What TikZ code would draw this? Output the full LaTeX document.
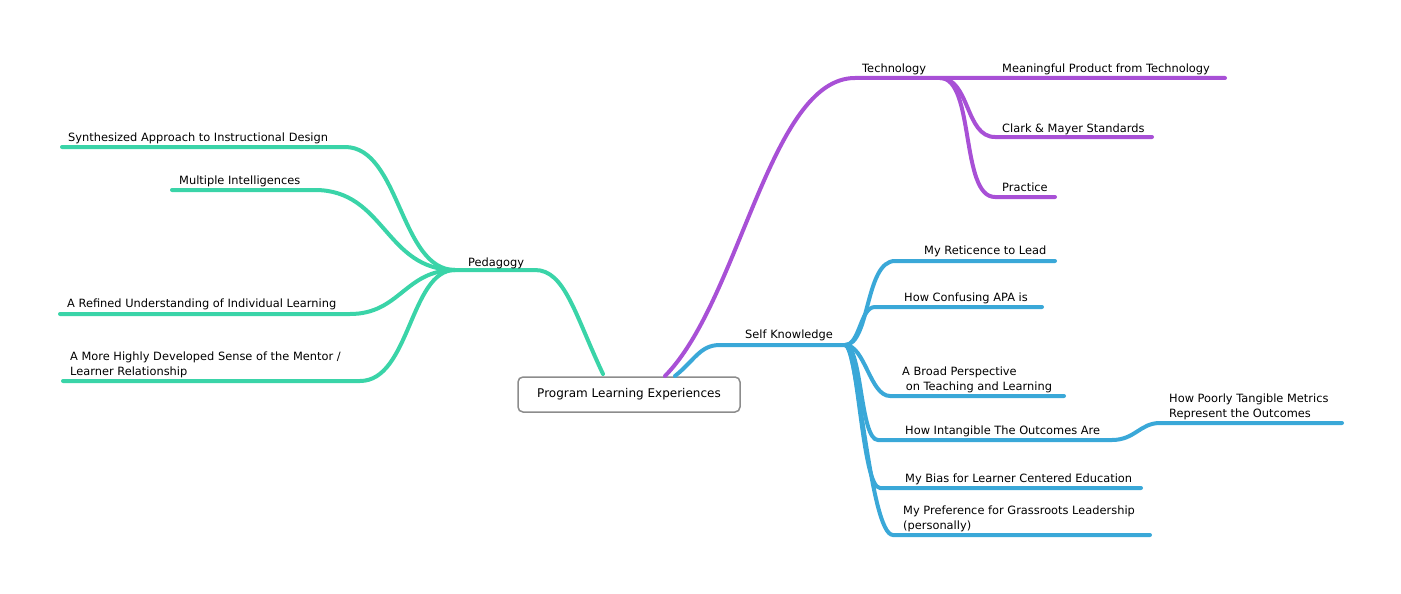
\documentclass[tikz,border=0pt]{standalone}
\usepackage{fontspec}
\setmainfont{DejaVu Sans}
\begin{document}
\begin{tikzpicture}[x=1pt,y=-1pt,
  br/.style={line width=4pt,line cap=round},
  ped/.style={br,draw={rgb,255:red,58;green,212;blue,168}},
  tec/.style={br,draw={rgb,255:red,168;green,80;blue,214}},
  slf/.style={br,draw={rgb,255:red,58;green,168;blue,216}},
  lbl/.style={font=\fontsize{11.4}{15}\selectfont,inner sep=0pt,anchor=base west,align=left}]
\useasboundingbox (0,0) rectangle (1401,594);
\node[draw={rgb,255:red,140;green,140;blue,140},line width=1.5pt,rounded corners=5pt,minimum width=222pt,minimum height=35pt,font=\fontsize{12}{14}\selectfont] (root) at (629,394.5) {Program Learning Experiences};
% Pedagogy
\coordinate (p0) at (603,374); \coordinate (ph) at (455,270); \coordinate (pe) at (535,270);
\draw[ped] (p0) .. controls (575,315) and (565,270) .. (pe) -- (ph);
\node[lbl] (pl) at (468,266) {Pedagogy};
\coordinate (a1) at (345,147); \coordinate (a0) at (62,147);
\draw[ped] (ph) .. controls (400,270) and (400,147) .. (a1) -- (a0);
\node[lbl] at (68,141) {Synthesized Approach to Instructional Design};
\coordinate (b1) at (315,190); \coordinate (b0) at (172,190);
\draw[ped] (ph) .. controls (385,270) and (385,190) .. (b1) -- (b0);
\node[lbl] at (179,184) {Multiple Intelligences};
\coordinate (c1) at (350,314); \coordinate (c0) at (60,314);
\draw[ped] (ph) .. controls (405,270) and (400,314) .. (c1) -- (c0);
\node[lbl] at (67,307) {A Refined Understanding of Individual Learning};
\coordinate (d1) at (360,381); \coordinate (d0) at (63,381);
\draw[ped] (ph) .. controls (410,270) and (410,381) .. (d1) -- (d0);
\node[lbl] at (70,375) {A More Highly Developed Sense of the Mentor /\\Learner Relationship};
% Technology
\coordinate (t0) at (665,376); \coordinate (th) at (855,78); \coordinate (te) at (1225,78); \coordinate (tj) at (940,78);
\draw[tec] (t0) .. controls (740,300) and (770,78) .. (th) -- (te);
\node[lbl] at (862,73) {Technology};
\node[lbl] at (1002,73) {Meaningful Product from Technology};
\coordinate (e1) at (995,137); \coordinate (e0) at (1152,137);
\draw[tec] (tj) .. controls (970,78) and (965,137) .. (e1) -- (e0);
\node[lbl] at (1002,132) {Clark \& Mayer Standards};
\coordinate (f1) at (995,197); \coordinate (f0) at (1055,197);
\draw[tec] (tj) .. controls (975,78) and (960,197) .. (f1) -- (f0);
\node[lbl] at (1002,191) {Practice};
% Self knowledge
\coordinate (s0) at (675,376); \coordinate (sh) at (845,345); \coordinate (ss) at (720,345);
\draw[slf] (s0) .. controls (695,360) and (700,345) .. (ss) -- (sh);
\node[lbl] at (745,338) {Self Knowledge};
\coordinate (g1) at (895,261); \coordinate (g0) at (1055,261);
\draw[slf] (sh) .. controls (870,345) and (865,261) .. (g1) -- (g0);
\node[lbl] at (924,254) {My Reticence to Lead};
\coordinate (h1) at (875,307); \coordinate (h0) at (1042,307);
\draw[slf] (sh) .. controls (860,345) and (860,307) .. (h1) -- (h0);
\node[lbl] at (904,301) {How Confusing APA is};
\coordinate (i1) at (890,396); \coordinate (i0) at (1064,396);
\draw[slf] (sh) .. controls (865,345) and (870,396) .. (i1) -- (i0);
\node[lbl] at (902,390) {A Broad Perspective\\\ on Teaching and Learning};
\coordinate (j1) at (878,440); \coordinate (j0) at (1112,440);
\draw[slf] (sh) .. controls (862,345) and (860,440) .. (j1) -- (j0);
\node[lbl] at (905,434) {How Intangible The Outcomes Are};
\coordinate (k1) at (1160,423); \coordinate (k0) at (1342,423);
\draw[slf] (j0) .. controls (1135,440) and (1140,423) .. (k1) -- (k0);
\node[lbl] at (1169,417) {How Poorly Tangible Metrics\\Represent the Outcomes};
\coordinate (l1) at (880,488); \coordinate (l0) at (1141,488);
\draw[slf] (sh) .. controls (858,345) and (862,488) .. (l1) -- (l0);
\node[lbl] at (905,482) {My Bias for Learner Centered Education};
\coordinate (m1) at (893,535); \coordinate (m0) at (1150,535);
\draw[slf] (sh) .. controls (858,345) and (870,535) .. (m1) -- (m0);
\node[lbl] at (903,529) {My Preference for Grassroots Leadership\\(personally)};
\end{tikzpicture}
\end{document}
